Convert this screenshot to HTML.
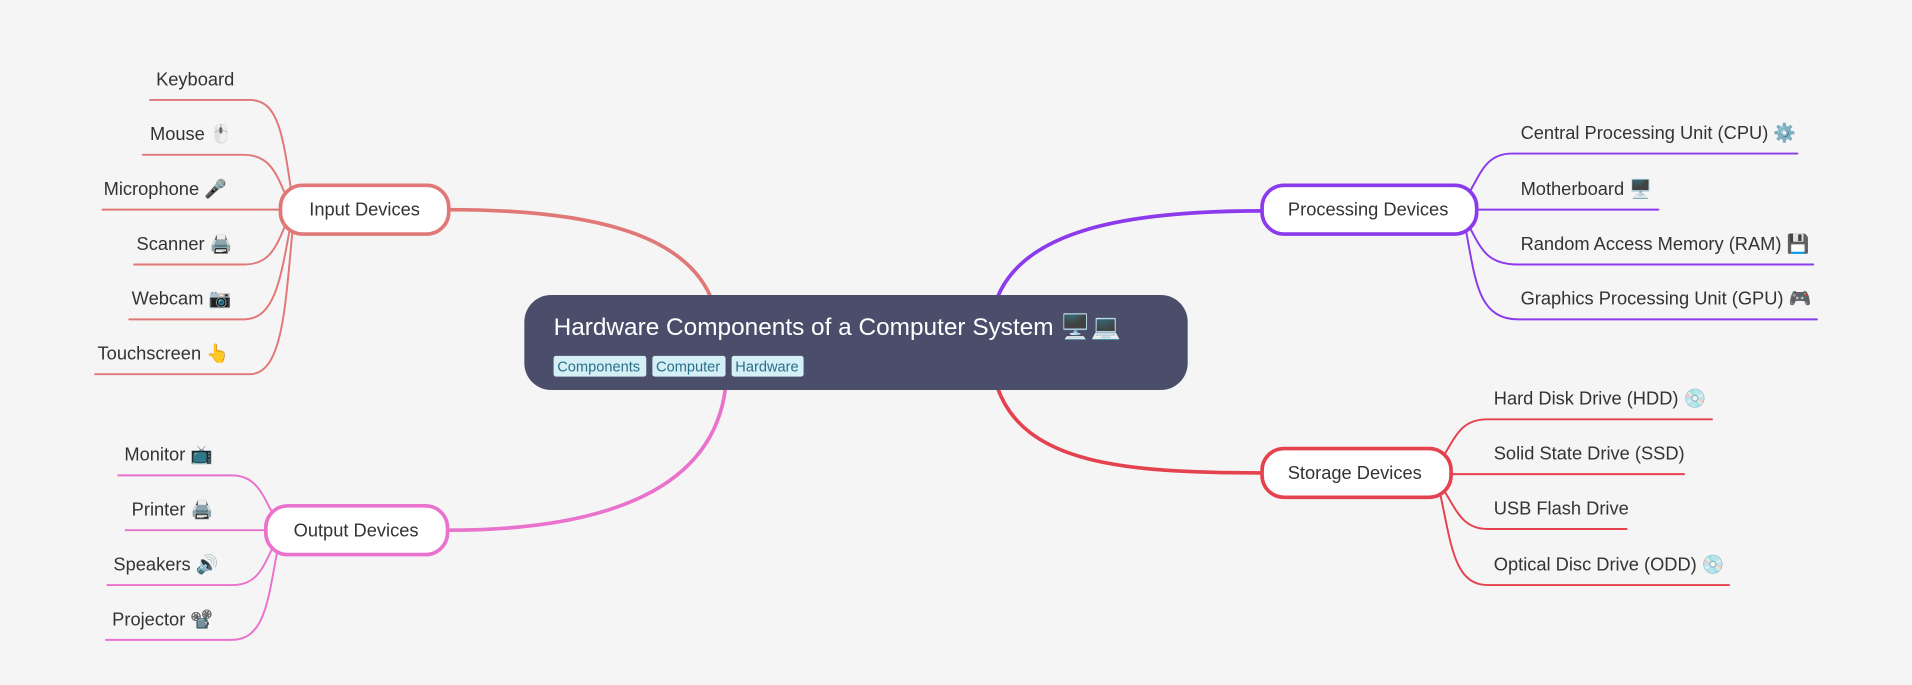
<!DOCTYPE html>
<html><head><meta charset="utf-8"><style>
html,body{margin:0;padding:0;background:#f5f5f5;}
svg{display:block;}
text{font-family:"Liberation Sans","DejaVu Sans",sans-serif;}
</style></head><body>
<svg width="1912" height="685" viewBox="0 0 1568 562" preserveAspectRatio="none" xmlns="http://www.w3.org/2000/svg">
<rect width="1568" height="562" fill="#f5f5f5"/>
<g fill="none" stroke-linecap="round">
<!-- main connectors -->
<path d="M583,244 C560,190 480,172 368,172" stroke="#e07878" stroke-width="3"/>
<path d="M595,318 C585,400 500,435 367,435" stroke="#e872cc" stroke-width="3"/>
<path d="M818,244 C840,190 920,173 1035,173" stroke="#8b3aec" stroke-width="3"/>
<path d="M818,318 C840,380 920,388 1035,388" stroke="#e5424f" stroke-width="3"/>
<!-- input leaves -->
<g stroke="#e07878" stroke-width="1.6">
<path d="M239,158 C232,110 228,82 205,82 L123,82"/>
<path d="M235,162 C226,140 220,127 200,127 L117,127"/>
<path d="M232,172 L84,172"/>
<path d="M235,182 C226,205 220,217 200,217 L110,217"/>
<path d="M238,186 C230,230 225,262 200,262 L106,262"/>
<path d="M240,188 C234,250 232,307 205,307 L78,307"/>
</g>
<!-- output leaves -->
<g stroke="#e872cc" stroke-width="1.6">
<path d="M225,424 C215,405 210,390 190,390 L97,390"/>
<path d="M218,435 L103,435"/>
<path d="M225,446 C215,468 210,480 190,480 L88,480"/>
<path d="M228,449 C220,490 218,525 190,525 L87,525"/>
</g>
<!-- processing leaves -->
<g stroke="#8b3aec" stroke-width="1.6">
<path d="M1205,158 C1215,140 1220,126 1240,126 L1474,126"/>
<path d="M1211,172 L1360,172"/>
<path d="M1205,186 C1215,205 1220,217 1245,217 L1487,217"/>
<path d="M1202,188 C1210,230 1212,262 1245,262 L1490,262"/>
</g>
<!-- storage leaves -->
<g stroke="#e5424f" stroke-width="1.6">
<path d="M1184,374 C1195,355 1200,344 1220,344 L1404,344"/>
<path d="M1190,389 L1381,389"/>
<path d="M1184,402 C1195,420 1200,434 1220,434 L1334,434"/>
<path d="M1181,405 C1190,445 1192,480 1220,480 L1418,480"/>
</g>
</g>
<!-- center node -->
<rect x="430" y="242" width="544" height="78" rx="22" fill="#4b4e6a"/>
<text x="454" y="275" font-size="20" fill="#ffffff">Hardware Components of a Computer System 🖥️💻</text>
<g font-size="12" fill="#2a6f8a">
<rect x="454" y="292" width="76" height="17" rx="2" fill="#d4eff6"/><text x="457" y="305">Components</text>
<rect x="535" y="292" width="60" height="17" rx="2" fill="#d4eff6"/><text x="538" y="305">Computer</text>
<rect x="600" y="292" width="59" height="17" rx="2" fill="#d4eff6"/><text x="603" y="305">Hardware</text>
</g>
<!-- branch nodes -->
<rect x="230" y="152" width="138" height="40" rx="18" fill="#fff" stroke="#e07878" stroke-width="3"/>
<rect x="218" y="415" width="149" height="40" rx="18" fill="#fff" stroke="#e872cc" stroke-width="3"/>
<rect x="1035" y="152" width="176" height="40" rx="18" fill="#fff" stroke="#8b3aec" stroke-width="3"/>
<rect x="1035" y="368" width="155" height="40" rx="18" fill="#fff" stroke="#e5424f" stroke-width="3"/>
<g font-size="15" fill="#333" text-anchor="middle">
<text x="299" y="177">Input Devices</text>
<text x="292" y="440">Output Devices</text>
<text x="1122" y="177">Processing Devices</text>
<text x="1111" y="393">Storage Devices</text>
</g>
<!-- leaf labels -->
<g font-size="15" fill="#333">
<text x="128" y="70">Keyboard</text>
<text x="123" y="115">Mouse 🖱️</text>
<text x="85" y="160">Microphone 🎤</text>
<text x="112" y="205">Scanner 🖨️</text>
<text x="108" y="250">Webcam 📷</text>
<text x="80" y="295">Touchscreen 👆</text>
<text x="102" y="378">Monitor 📺</text>
<text x="108" y="423">Printer 🖨️</text>
<text x="93" y="468">Speakers 🔊</text>
<text x="92" y="513">Projector 📽️</text>
<text x="1247" y="114">Central Processing Unit (CPU) ⚙️</text>
<text x="1247" y="160">Motherboard 🖥️</text>
<text x="1247" y="205">Random Access Memory (RAM) 💾</text>
<text x="1247" y="250">Graphics Processing Unit (GPU) 🎮</text>
<text x="1225" y="332">Hard Disk Drive (HDD) 💿</text>
<text x="1225" y="377">Solid State Drive (SSD)</text>
<text x="1225" y="422">USB Flash Drive</text>
<text x="1225" y="468">Optical Disc Drive (ODD) 💿</text>
</g>
</svg>
</body></html>
